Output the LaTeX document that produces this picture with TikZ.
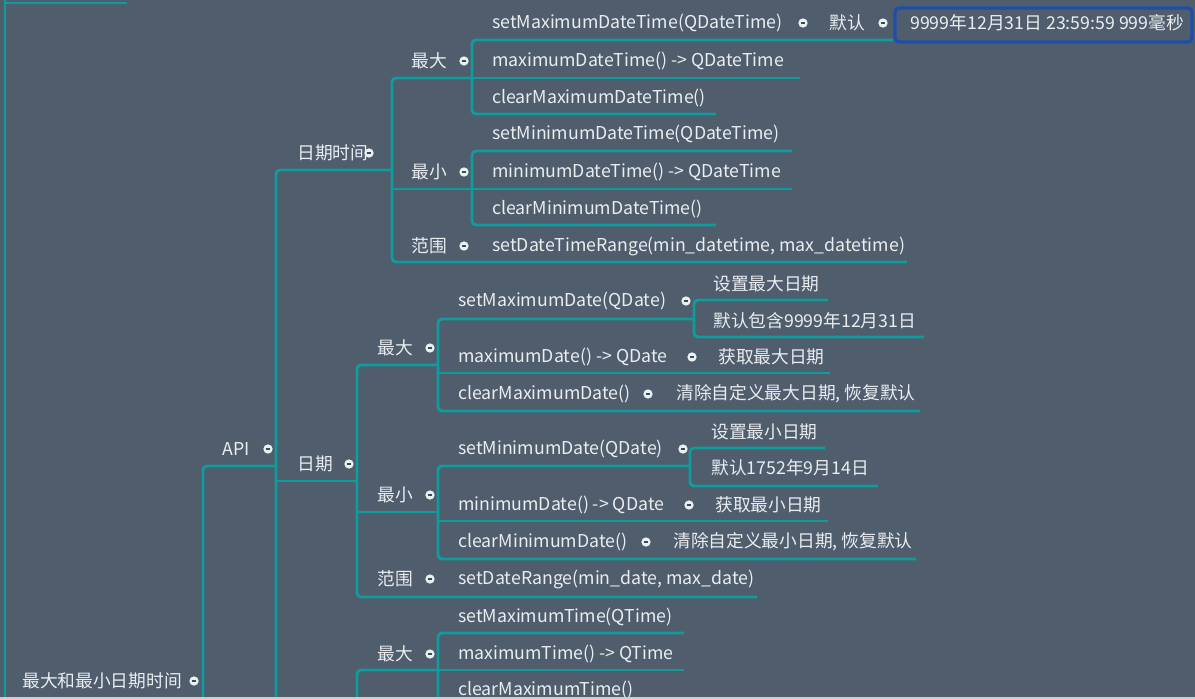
\documentclass[tikz,border=0pt]{standalone}
\usepackage{fontspec}
\setmainfont{Noto Sans CJK SC}
\begin{document}
\begin{tikzpicture}[x=0.75pt,y=-0.75pt,
  lbl/.style={anchor=west,inner sep=0pt,text=txt,font=\fontsize{13.3}{15}\selectfont},
  br/.style={draw=teal0,line width=2.2pt,rounded corners=3pt},
  dotc/.style={circle,fill=dotw,inner sep=0pt,minimum size=7pt}]
\definecolor{bg}{HTML}{4F5D6D}
\definecolor{teal0}{HTML}{0E9C9C}
\definecolor{txt}{HTML}{E9EDF0}
\definecolor{dotw}{HTML}{E8F0F2}
\definecolor{boxb}{HTML}{1E4FA8}
\fill[bg] (0,0) rectangle (1195,699);
\useasboundingbox (0,0) rectangle (1195,699);
\newcommand{\dt}[3]{\node[dotc] (#1) at (#2,#3) {}; \draw[bg!80!black,line width=1pt] ([xshift=-1.8pt]#1.center) -- ([xshift=1.8pt]#1.center);}
% left edge
\draw[teal0,line width=2.2pt] (5,0) -- (5,699);
\draw[teal0,line width=2.2pt] (5,3) -- (127,3);
% root
\node[lbl] (root) at (22,681) {最大和最小日期时间}; \dt{d0}{194}{681}
\draw[br] (276,466) -- (203,466) -- (203,705);
\node[lbl] (api) at (222,449) {API}; \dt{d1}{268}{449}
\draw[br] (392,170) -- (276,170) -- (276,705);
\draw[br] (276,481) -- (357,481);
% 日期时间
\node[lbl] (dtm) at (297,153) {日期时间}; \dt{d2}{369}{153}
\draw[br] (472,78) -- (392,78) -- (392,262) -- (907,262);
\draw[br] (392,189) -- (472,189);
\node[lbl] (mx1) at (411,61) {最大}; \dt{d3}{464}{61}
\draw[br] (893,40) -- (472,40) -- (472,114) -- (716,114);
\draw[br] (472,78) -- (800,78);
\node[lbl] (a1) at (492,23) {setMaximumDateTime(QDateTime)}; \dt{d4}{803}{23}
\node[lbl] (a1d) at (829,23) {默认}; \dt{d5}{883}{23}
\draw[boxb,line width=2.4pt,rounded corners=3pt] (895,8) rectangle (1192,42);
\node[lbl] (a1v) at (910,23) {9999年12月31日 23:59:59 999毫秒};
\node[lbl] (a2) at (492,61) {maximumDateTime() -> QDateTime};
\node[lbl] (a3) at (492,98) {clearMaximumDateTime()};
\node[lbl] (mn1) at (411,172) {最小}; \dt{d6}{464}{172}
\draw[br] (792,151) -- (472,151) -- (472,225) -- (716,225);
\draw[br] (472,189) -- (792,189);
\node[lbl] (b1) at (492,134) {setMinimumDateTime(QDateTime)};
\node[lbl] (b2) at (492,172) {minimumDateTime() -> QDateTime};
\node[lbl] (b3) at (492,209) {clearMinimumDateTime()};
\node[lbl] (rg1) at (411,246) {范围}; \dt{d7}{464}{246}
\node[lbl] (c1) at (492,246) {setDateTimeRange(min\_datetime, max\_datetime)};
% 日期
\node[lbl] (dd) at (297,464) {日期}; \dt{d8}{349}{464}
\draw[br] (438,365) -- (357,365) -- (357,597) -- (757,597);
\draw[br] (357,512) -- (438,512);
\node[lbl] (mx2) at (377,348) {最大}; \dt{d9}{430}{348}
\draw[br] (694,319) -- (438,319) -- (438,411) -- (920,411);
\draw[br] (438,373) -- (830,373);
\node[lbl] (e1) at (458,301) {setMaximumDate(QDate)}; \dt{d10}{686}{301}
\draw[br] (828,300) -- (694,300) -- (694,337) -- (924,337);
\node[lbl] (e1a) at (713,284) {设置最大日期};
\node[lbl] (e1b) at (713,321) {默认包含9999年12月31日};
\node[lbl] (e2) at (458,357) {maximumDate() -> QDate}; \dt{d11}{692}{357}
\node[lbl] (e2a) at (718,357) {获取最大日期};
\node[lbl] (e3) at (458,394) {clearMaximumDate()}; \dt{d12}{648}{394}
\node[lbl] (e3a) at (676,394) {清除自定义最大日期, 恢复默认};
\node[lbl] (mn2) at (377,495) {最小}; \dt{d13}{430}{495}
\draw[br] (690,466) -- (438,466) -- (438,559) -- (916,559);
\draw[br] (438,521) -- (828,521);
\node[lbl] (f1) at (458,449) {setMinimumDate(QDate)}; \dt{d14}{683}{449}
\draw[br] (825,448) -- (690,448) -- (690,486) -- (878,486);
\node[lbl] (f1a) at (711,432) {设置最小日期};
\node[lbl] (f1b) at (711,468) {默认1752年9月14日};
\node[lbl] (f2) at (458,505) {minimumDate() -> QDate}; \dt{d15}{689}{505}
\node[lbl] (f2a) at (715,505) {获取最小日期};
\node[lbl] (f3) at (458,542) {clearMinimumDate()}; \dt{d16}{646}{542}
\node[lbl] (f3a) at (673,542) {清除自定义最小日期, 恢复默认};
\node[lbl] (rg2) at (377,579) {范围}; \dt{d17}{430}{579}
\node[lbl] (g1) at (458,579) {setDateRange(min\_date, max\_date)};
% 时间
\draw[br] (438,670) -- (357,670) -- (357,705);
\node[lbl] (mx3) at (377,654) {最大}; \dt{d18}{430}{654}
\draw[br] (684,633) -- (438,633) -- (438,705);
\draw[br] (438,670) -- (684,670);
\node[lbl] (h1) at (458,617) {setMaximumTime(QTime)};
\node[lbl] (h2) at (458,654) {maximumTime() -> QTime};
\node[lbl] (h3) at (458,690) {clearMaximumTime()};
\fill[gray!40] (0,697) rectangle (1195,699);
\end{tikzpicture}
\end{document}
